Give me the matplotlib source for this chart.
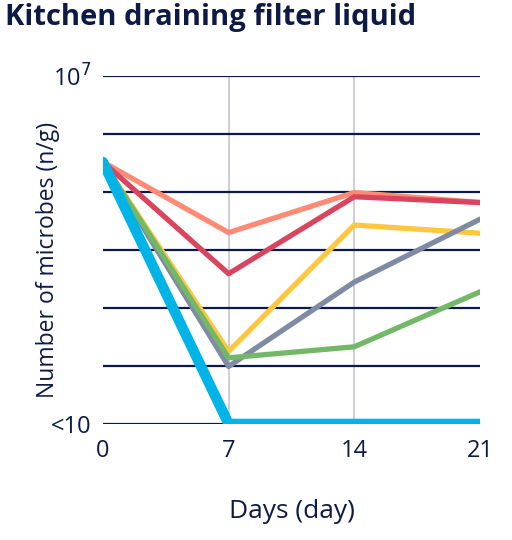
import numpy as np
import matplotlib
matplotlib.use("Agg")
import matplotlib.pyplot as plt

plt.rcParams['font.family'] = ['Open Sans', 'DejaVu Sans']

navy = '#0d1a45'

# Data (microbe counts, n/g)
days = [0, 7, 14, 21]
salmon = [3.3e5, 2.0e4, 9.8e4, 6.6e4]
red = [3.3e5, 3.9e3, 8.3e4, 6.6e4]
yellow = [3.3e5, 178, 2.7e4, 1.95e4]
gray = [3.3e5, 98, 2.8e3, 3.4e4]
green = [3.3e5, 138, 214, 1.9e3]
blue = [3.3e5, 10, 10, 10]

decades = [10**k for k in range(1, 8)]
ytick_vals = [10, 1e7]
ytick_labels = ['<10', '10$^{7}$']

fig = plt.figure(figsize=(5.12, 5.4), dpi=100)
ax = fig.add_axes([0.201, 0.215, 0.7365, 0.644])

# grid lines
for d in decades:
    ax.axhline(d, color=navy, lw=1.6, zorder=1)
for d in [7, 14]:
    ax.axvline(d, color='#c8cad6', lw=1.3, zorder=0)

ax.plot(days, salmon, color='#ff8a75', lw=3.8, solid_capstyle='round', zorder=3)
ax.plot(days, red, color='#d9455e', lw=3.8, solid_capstyle='round', zorder=4)
ax.plot(days, yellow, color='#ffc740', lw=3.8, solid_capstyle='round', zorder=3)
ax.plot(days, gray, color='#7f8aa3', lw=3.8, solid_capstyle='round', zorder=3)
ax.plot(days, green, color='#72b866', lw=3.8, solid_capstyle='round', zorder=3)
ax.plot(days, blue, color='#00b4e8', lw=7.5, solid_capstyle='round', zorder=5)

ax.set_yscale('log')
ax.set_xlim(0, 21)
ax.set_ylim(10, 1e7)
ax.set_xticks(days)
ax.set_yticks(ytick_vals)
ax.set_yticklabels(ytick_labels)
ax.minorticks_off()
ax.tick_params(axis='both', length=0, colors=navy, labelsize=17)
ax.tick_params(axis='y', pad=8)
ax.tick_params(axis='x', pad=11)
for s in ax.spines.values():
    s.set_visible(False)

ax.set_ylabel('Number of microbes (n/g)', fontsize=16.5, color=navy)
ax.yaxis.set_label_coords(-0.115, 0.472)
ax.set_xlabel('Days (day)', fontsize=19, color=navy, labelpad=26)
fig.text(0.01, 0.995, 'Kitchen draining filter liquid', fontsize=21,
         fontweight='bold', color=navy, va='top', ha='left')

fig.savefig('out.png', dpi=100)
